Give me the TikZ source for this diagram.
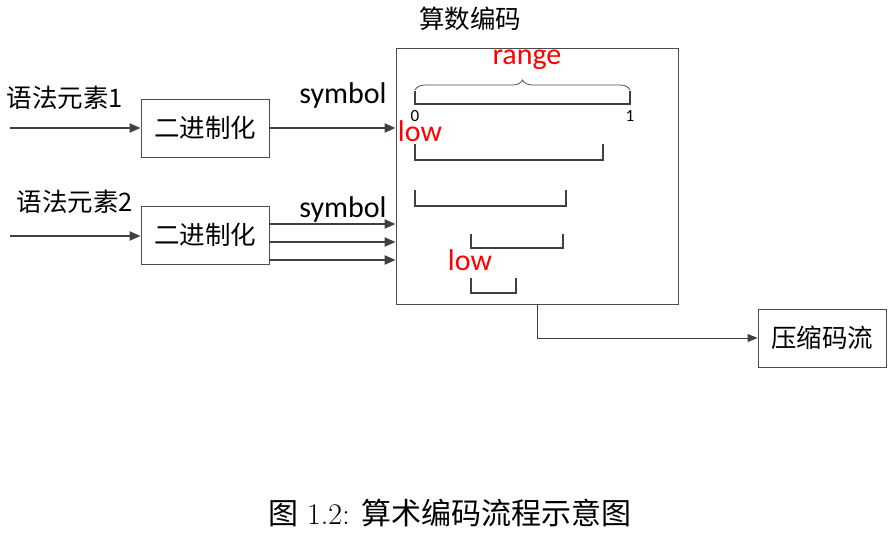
\documentclass[tikz,border=0pt]{standalone}
\usepackage{fontspec}
\newfontfamily\cjk{Noto Sans CJK SC}
\newfontfamily\carl{Carlito}
\usetikzlibrary{decorations.pathreplacing,arrows.meta}
\begin{document}
\begin{tikzpicture}[x=1pt,y=-1pt,
  box/.style={draw=black!70,line width=0.8pt,inner sep=0pt},
  arr/.style={draw=black!75,line width=2pt,-{Triangle[length=11pt,width=9pt]}},
  thin/.style={draw=black!75,line width=1pt,-{Triangle[length=10pt,width=8pt]}},
  bar/.style={draw=black!75,line width=2.4pt},
  cj/.style={font=\cjk\fontsize{25.5}{28}\selectfont},
  lat/.style={font=\carl\fontsize{30}{32}\selectfont},
  red/.style={text=red,font=\carl\fontsize{30}{32}\selectfont},
  num/.style={font=\carl\fontsize{17}{18}\selectfont}]
\useasboundingbox (0,0) rectangle (892,535);
\node[box,minimum width=282pt,minimum height=256pt] (ac) at (537,176) {};
\node[cj] (t) at (470,19) {算数编码};
\node[box,cj,minimum width=128pt,minimum height=58pt] (b1) at (205,128) {二进制化};
\node[box,cj,minimum width=128pt,minimum height=58pt] (b2) at (205,235) {二进制化};
\node[box,cj,minimum width=128pt,minimum height=58pt] (out) at (822,338) {压缩码流};
\node[cj] (l1) at (65,98) {语法元素1};
\node[cj] (l2) at (75,202) {语法元素2};
\coordinate (s1) at (10,128); \coordinate (s2) at (10,236);
\draw[arr] (s1) -- (b1.west);
\draw[arr] (s2) -- (b2.west|-s2);
\draw[arr] (b1.east) -- (ac.west|-b1.east);
\foreach \y in {224,242,260}{\draw[arr] (b2.east|-0,\y) -- (ac.west|-0,\y);}
\node[lat] (sy1) at (343,96) {symbol};
\node[lat] (sy2) at (343,210) {symbol};
\draw[bar] (415,91) -- (415,104) -- (630,104) -- (630,91);
\draw[black!70,line width=0.8pt,decorate,decoration={brace,amplitude=10pt}] (415,90) -- (630,90);
\node[red] (rg) at (527,60) {range};
\node[num] (z) at (415,116) {0};
\node[num] (o) at (630,116) {1};
\node[red] (lw1) at (420,131) {low};
\draw[bar] (415,144) -- (415,160) -- (603,160) -- (603,144);
\draw[bar] (415,190) -- (415,206) -- (566,206) -- (566,190);
\draw[bar] (471,234) -- (471,248) -- (563,248) -- (563,234);
\node[red] (lw2) at (470,260) {low};
\draw[bar] (471,278) -- (471,293) -- (516,293) -- (516,278);
\coordinate (d) at (537,338);
\draw[thin] (ac.south-|d) -- (d) -- (out.west);
\node (cap) at (450,513) {\fontsize{30}{34}\selectfont{\cjk 图} 1.2: {\cjk 算术编码流程示意图}};
\end{tikzpicture}
\end{document}
